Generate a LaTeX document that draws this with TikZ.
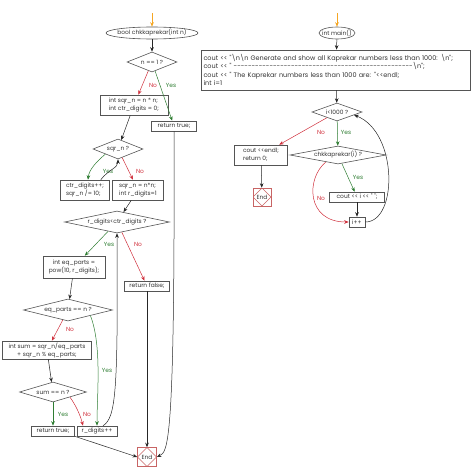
\documentclass[tikz,border=0pt]{standalone}
\usepackage{fontspec}
\setmainfont{Poppins}[Ligatures=TeXOff]
\usetikzlibrary{shapes.geometric,arrows.meta}
\definecolor{yesg}{HTML}{2E7D32}
\definecolor{nor}{HTML}{D0303C}
\definecolor{startc}{HTML}{F5A623}
\definecolor{endc}{HTML}{C86464}
\definecolor{bord}{HTML}{555555}
\definecolor{txt}{HTML}{333333}
\newcommand\zw[1]{\makebox[0pt]{#1}}
\tikzset{
 fnt/.style={font=\fontsize{5.9}{8}\selectfont},
 base/.style={draw=bord, line width=0.6pt, text=txt, fnt, inner sep=1.2pt, fill=white},
 box/.style={base, rectangle, align=left},
 boxc/.style={base, rectangle, align=center},
 dia/.style={base, diamond, inner sep=0pt, aspect=1},
 ell/.style={base, ellipse, inner sep=0pt},
 endn/.style={draw=endc, line width=0.6pt, minimum size=#1, inner sep=0pt, text=txt, fnt,
   path picture={\draw[endc,line width=0.5pt] (path picture bounding box.north) -- (path picture bounding box.east) -- (path picture bounding box.south) -- (path picture bounding box.west) -- cycle;}},
 arr/.style={-{Stealth[length=4.5pt,width=3.6pt]}, line width=0.5pt, draw=black!85},
 yes/.style={arr, draw=yesg},
 no/.style={arr, draw=nor},
 st/.style={arr, draw=startc},
 lbly/.style={text=yesg, fnt, inner sep=0pt},
 lbln/.style={text=nor, fnt, inner sep=0pt},
}
\begin{document}
\begin{tikzpicture}[x=1pt,y=1pt]
\useasboundingbox (0,0) rectangle (474,-474);
% ---------- left chart ----------
\coordinate (o1) at (152,-13);
\node[ell, minimum width=92pt, minimum height=12pt] (s1) at (152,-33) {\zw{bool chkkaprekar(int n)}};
\node[dia, minimum width=50pt, minimum height=20pt] (d1) at (152,-62) {\zw{n == 1 ?}};
\node[box, minimum width=68pt, minimum height=20pt] (b1) at (134,-105) {int sqr\_n = n * n;\\int ctr\_digits = 0;};
\node[box, minimum width=45pt, minimum height=10pt] (rt1) at (174,-126) {return true;};
\node[dia, minimum width=50pt, minimum height=20pt] (d2) at (118,-149) {\zw{sqr\_n ?}};
\node[box, minimum width=49pt, minimum height=20pt] (b2) at (85,-190) {ctr\_digits++;\\sqr\_n /= 10;};
\node[box, minimum width=51pt, minimum height=20pt] (b3) at (138,-190) {sqr\_n = n*n;\\int r\_digits=1};
\node[dia, minimum width=105pt, minimum height=22pt] (d3) at (117,-222) {\zw{r\_digits<ctr\_digits ?}};
\node[boxc, minimum width=62pt, minimum height=22pt] (b4) at (74,-267) {int eq\_parts =\\pow(10, r\_digits);};
\node[box, minimum width=45pt, minimum height=10pt] (rf) at (147,-286) {return false;};
\node[dia, minimum width=89pt, minimum height=22pt] (d4) at (68,-310) {\zw{eq\_parts == n ?}};
\node[boxc, minimum width=89pt, minimum height=18pt] (b5) at (47,-350) {int sum = sqr\_n/eq\_parts\\+ sqr\_n \% eq\_parts;};
\node[dia, minimum width=67pt, minimum height=20pt] (d5) at (53,-392) {\zw{sum == n ?}};
\node[box, minimum width=43pt, minimum height=10pt] (rt2) at (53,-431) {return true;};
\node[box, minimum width=40pt, minimum height=10pt] (rd) at (97,-431) {r\_digits++};
\node[endn=19pt] (e1) at (147,-457) {End};

\node[lbln] (l1) at (153,-85) {No};
\node[lbly] (l2) at (171,-85) {Yes};
\node[lbly] (l3) at (108,-171) {Yes};
\node[lbln] (l4) at (140,-171) {No};
\node[lbly] (l5) at (109,-244) {Yes};
\node[lbln] (l6) at (138,-244) {No};
\node[lbln] (l7) at (70,-329) {No};
\node[lbly] (l8) at (107,-370) {Yes};
\node[lbly] (l9) at (63,-414) {Yes};
\node[lbln] (l10) at (87,-414) {No};

\draw[st] (o1) -- (s1);
\draw[arr] (s1) -- (d1);
\draw[no] (d1) -- (b1);
\draw[yes] (d1) -- (rt1);
\draw[arr] (b1) -- (d2);
\draw[yes] (d2.south west) .. controls (96,-162) and (89,-170) .. ([xshift=3pt]b2.north);
\draw[arr] ([xshift=-9pt]b2.north east) .. controls (108,-170) and (118,-168) .. (d2.south);
\draw[no] (d2) -- (b3);
\draw[arr] (b3) -- (d3);
\draw[yes] (d3) -- (b4);
\draw[no] (d3) -- (rf);
\draw[arr] (rf.south) -- (e1.north);
\draw[arr] (rt1.south) .. controls (175,-445) and (168,-452) .. (e1.east);
\draw[arr] (b4) -- (d4);
\draw[no] (d4) -- (b5);
\draw[yes] (d4.south east) .. controls (102,-345) and (97,-395) .. (rd.north);
\draw[arr] (b5) -- (d5);
\draw[yes] (d5) -- (rt2);
\draw[no] (d5.south east) .. controls (75,-404) and (80,-414) .. ([xshift=-14pt]rd.north);
\draw[arr] ([xshift=6pt]rd.north) .. controls (116,-418) and (118,-390) .. (d3.south);
\draw[arr] (rt2.south east) -- (e1.west);

% ---------- right chart ----------
\coordinate (o2) at (337,-13);
\node[ell, minimum width=36pt, minimum height=12pt] (s2) at (337,-33) {\zw{int main()}};
\node[box, minimum width=269pt, minimum height=40pt, text width=265pt, font=\fontsize{6.5}{8.3}\selectfont] (b6) at (336,-70) {cout << "\textbackslash n\textbackslash n Generate and show all Kaprekar numbers less than 1000: \textbackslash n";\\cout << " --------------------------------------------------\textbackslash n";\\cout << " The Kaprekar numbers less than 1000 are: "<<endl;\\int i=1};
\node[dia, minimum width=50pt, minimum height=18pt] (d6) at (337,-112) {\zw{i<1000 ?}};
\node[box, minimum width=53pt, minimum height=20pt] (b7) at (261,-155) {cout <<endl;\\return 0;};
\node[endn=18pt] (e2) at (262,-197) {End};
\node[dia, minimum width=96pt, minimum height=18pt] (d7) at (338,-155) {\zw{chkkaprekar(i) ?}};
\node[box, minimum width=55pt, minimum height=10pt] (b8) at (357,-197) {cout << i << " ";};
\node[box, minimum width=16pt, minimum height=10pt] (b9) at (357,-222) {i++};

\node[lbln] (l11) at (321,-132) {No};
\node[lbly] (l12) at (346,-132) {Yes};
\node[lbly] (l13) at (358,-177) {Yes};
\node[lbln] (l14) at (321,-198) {No};

\draw[st] (o2) -- (s2);
\draw[arr] (s2) -- (b6);
\draw[arr] (b6) -- (d6);
\draw[no] (d6) -- (b7);
\draw[yes] (d6) -- (d7);
\draw[arr] (b7) -- (e2);
\draw[yes] (d7) -- (b8);
\draw[no] (d7.-150) .. controls (306,-178) and (306,-222) .. (b9.west);
\draw[arr] (b8) -- (b9);
\draw[arr] (b9.east) .. controls (398,-222) and (398,-132) .. (d6.-10);
\end{tikzpicture}
\end{document}
